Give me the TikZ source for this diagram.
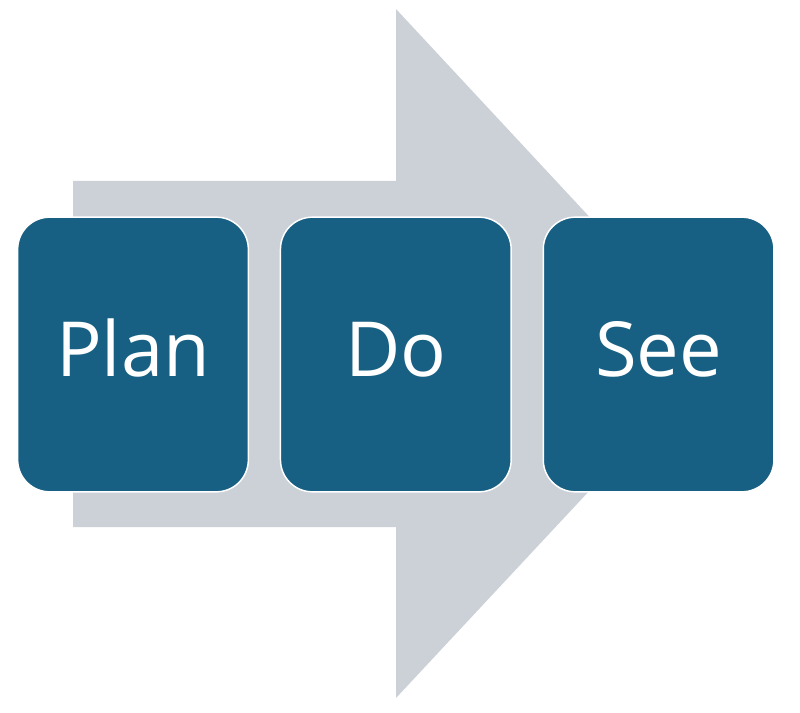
\documentclass[tikz,border=0pt]{standalone}
\usepackage{fontspec}
\setmainfont{Open Sans}
\usepackage{tikz}
\usepackage{xcolor}
\usetikzlibrary{positioning}

\definecolor{stepblue}{HTML}{176083}
\definecolor{arrowgrey}{HTML}{CCD1D8}

\tikzset{
  stagebox/.style={rectangle, fill=stepblue, draw=white, line width=1.1pt,
    rounded corners=24pt, minimum width=173pt, minimum height=206pt,
    text=white, font=\fontsize{57}{60}\selectfont, inner sep=0pt,
    text height=41pt, text depth=8pt},
}

\begin{document}
\begin{tikzpicture}[x=0.75pt, y=-0.75pt, node distance=23pt]
\useasboundingbox (0,0) rectangle (800,713);
% big background arrow
\fill[arrowgrey] (73,181) -- (396,181) -- (396,9) -- (717,354) -- (396,698)
  -- (396,527) -- (73,527) -- cycle;
% the three stages
\node[stagebox] (plan) at (133,354.5) {Plan};
\node[stagebox, right=of plan] (do) {Do};
\node[stagebox, right=of do] (see) {See};
\end{tikzpicture}
\end{document}
